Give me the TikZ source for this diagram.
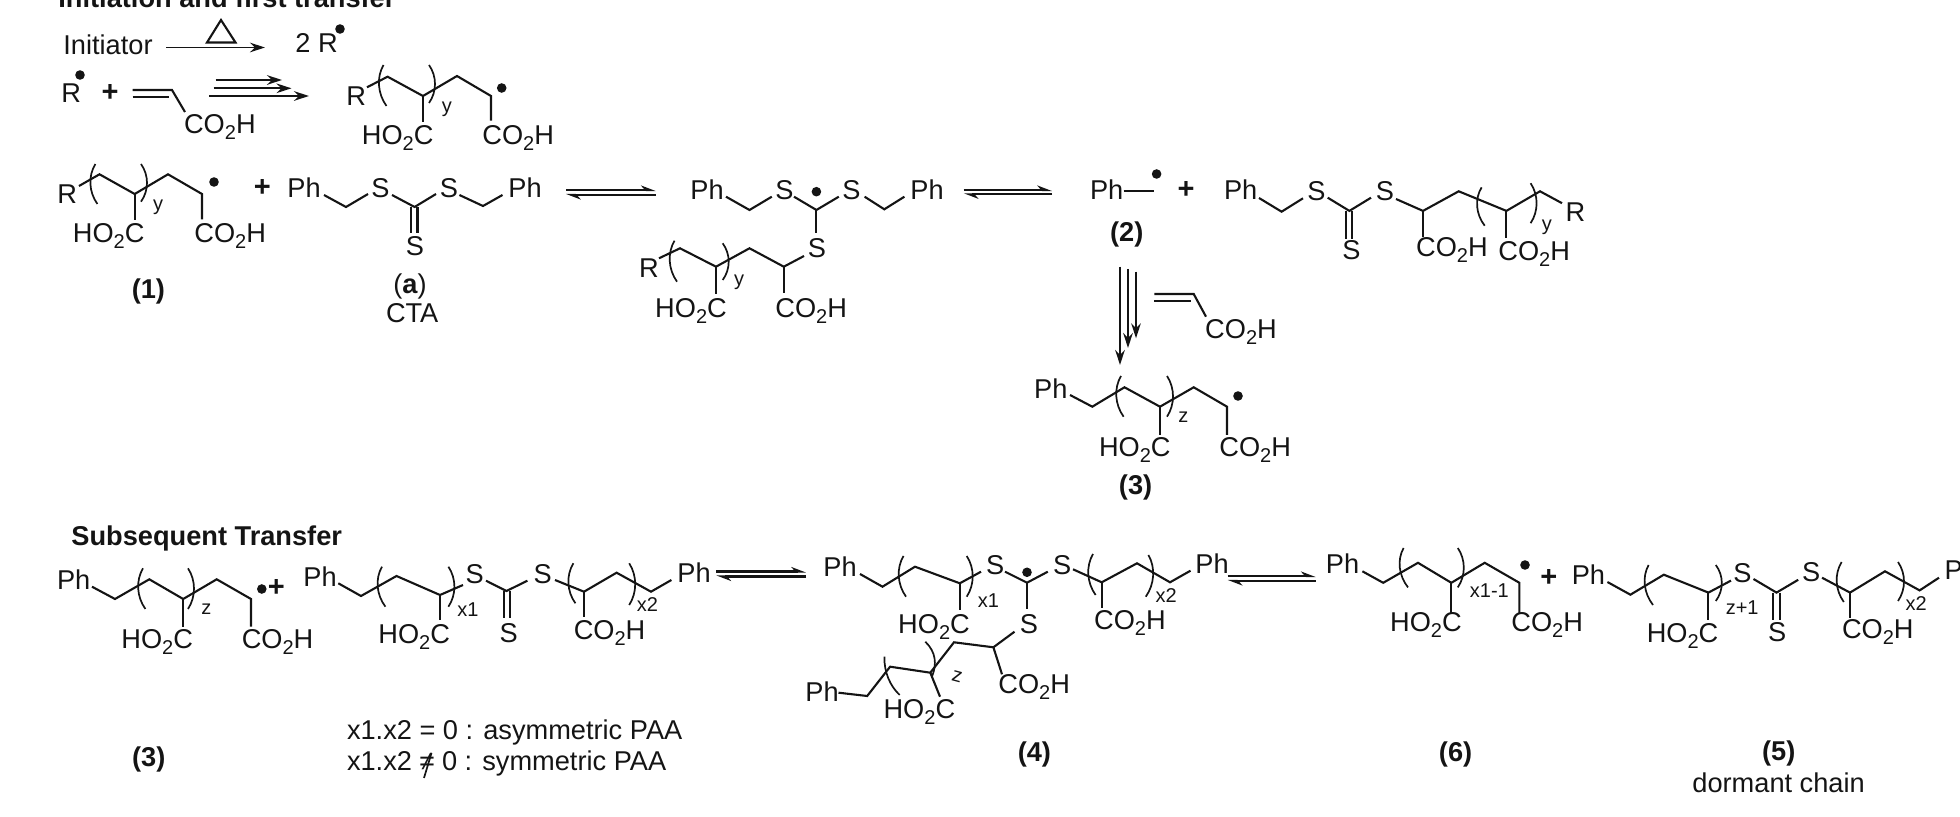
\documentclass[tikz,border=0pt]{standalone}
\usepackage{fontspec}
\setmainfont{Liberation Sans}
\usetikzlibrary{arrows.meta,calc}
\newcommand\subt[1]{\raisebox{-0.22em}{\fontsize{10}{10}\selectfont #1}}
\newcommand\COH{CO\subt{2}H}
\newcommand\HOC{HO\subt{2}C}
\newcommand\Lbl[4]{\node[lbl] (#1) at (#2,#3) {#4};}
\newcommand\Sml[4]{\node[sml] (#1) at (#2,#3) {#4};}
\newcommand\Ctr[4]{\node[ctr] (#1) at (#2,#3) {#4};}
\newcommand\Plus[3]{\node[plusn] (#1) at (#2,#3) {+};}
\newcommand\Dot[3]{\node[rad] (#1) at (#2,#3) {};}
\newcommand\prn[5]{\draw[thinb] (#1,#2) .. controls ($(#1,#2)!.3!(#3,#4)+(#5,0)$) and ($(#1,#2)!.7!(#3,#4)+(#5,0)$) .. (#3,#4);}
\newcommand\eqm[5]{%
  \coordinate (#1ua) at (#2,#4); \coordinate (#1ub) at (#3,#4);
  \coordinate (#1la) at (#3,#5); \coordinate (#1lb) at (#2,#5);
  \draw[eqarrow] (#1ua) -- (#1ub);
  \draw[eqarrow] (#1la) -- (#1lb);}
\newcommand\rxn[5]{%
  \coordinate (#1a) at (#2,#3); \coordinate (#1b) at (#4,#5);
  \draw[rxnarrow] (#1a) -- (#1b);}
\tikzset{
  every node/.style={text=ink},
  lbl/.style={anchor=base west,inner sep=0pt,font=\fontsize{13.6}{15}\selectfont},
  sml/.style={anchor=base west,inner sep=0pt,font=\fontsize{10}{11}\selectfont},
  ctr/.style={anchor=base,inner sep=0pt,font=\fontsize{13.6}{15}\selectfont\bfseries},
  plusn/.style={anchor=center,inner sep=0pt,font=\fontsize{14.5}{15}\selectfont\bfseries},
  rad/.style={circle,fill=ink,draw=none,minimum size=4.8pt,inner sep=0pt},
  bond/.style={draw=ink,line width=1.05pt,line join=miter},
  thinb/.style={draw=ink,line width=0.85pt},
  rxnarrow/.style={draw=ink,line width=0.95pt,-{Stealth[length=7.5pt,width=4.8pt]}},
  eqarrow/.style={draw=ink,line width=1.1pt,-{Stealth[harpoon,length=6pt,width=4.5pt]}},
}
\definecolor{ink}{HTML}{141414}
\begin{document}
\begin{tikzpicture}[x=0.5pt,y=-0.5pt]
\useasboundingbox (0,0) rectangle (1960,817);
% ---- Initiation header
\node[lbl,font=\fontsize{13.6}{15}\selectfont\bfseries] (title) at (58,8) {Initiation and first transfer};
\Lbl{init}{63}{55}{Initiator}
\rxn{ar1}{166}{47.5}{265}{47.5}
\draw[bond] (221,20) -- (207,42.5) -- (235.5,42.5) -- cycle;
\Lbl{twoR}{295}{53}{2 R}
\Dot{d1}{340}{29}
% ---- R + monomer
\Lbl{r2}{61}{102.7}{R}
\Dot{d2}{80}{75}
\Plus{p1}{110}{93}
\draw[bond] (132.7,97.3) -- (169,97.3);
\draw[bond] (132.7,90) -- (172,90) -- (185,112);
\Lbl{co1}{183.7}{134}{\COH}
\rxn{ar2a}{215.6}{80}{282}{80}
\rxn{ar2b}{213.5}{88.3}{291.5}{88.3}
\rxn{ar2c}{209.4}{96}{309}{96}
% chain
\Lbl{r3}{346}{106}{R}
\draw[bond] (367,87.3) -- (387.6,76.7) -- (423,96) -- (457,76) -- (491,96) -- (491,120.7);
\draw[bond] (423,96) -- (423,121.7);
\prn{383.5}{65}{386.5}{106}{-8}
\prn{429}{65}{429}{103}{8}
\Dot{d3}{501.7}{88}
\Sml{y1}{441.5}{113}{y}
\Lbl{ho1}{361.5}{145}{\HOC}
\Lbl{co2}{482}{145}{\COH}
% ---- (1)
\Lbl{r4}{57}{204}{R}
\draw[bond] (79,186) -- (99.5,174.3) -- (134.7,194) -- (168,174.3) -- (202,194) -- (202,219.3);
\draw[bond] (134.7,194) -- (134.7,220);
\prn{95.4}{164}{97.4}{204}{-8}
\prn{141}{164}{141}{201.7}{8}
\Dot{d4}{214}{182}
\Sml{y2}{152.6}{211}{y}
\Lbl{ho2}{72.5}{243}{\HOC}
\Lbl{co3}{194}{243}{\COH}
\Ctr{c1}{148.4}{299}{(1)}
\Plus{p2}{262.4}{188}
% CTA
\Lbl{ph1}{287}{197.7}{Ph}
\draw[bond] (324,195) -- (346,207) -- (368,194);
\Lbl{s1}{371}{197.7}{S}
\draw[bond] (392,195) -- (414.6,207) -- (436,194);
\Lbl{s2}{439.5}{197.7}{S}
\draw[bond] (459.4,195) -- (483,206) -- (502.5,195);
\Lbl{ph2}{508}{197.7}{Ph}
\draw[bond] (411.3,207) -- (411.3,232.7);
\draw[bond] (417.5,207) -- (417.5,232.7);
\Lbl{s3}{405.5}{255.7}{S}
\node[anchor=base,inner sep=0pt,font=\fontsize{13.6}{15}\selectfont] (ca) at (410,294) {(\textbf{a})};
\Lbl{cta}{385.6}{323}{CTA}
\eqm{eq1}{566}{655.7}{190}{195}
% ---- Intermediate
\Lbl{ph3}{690}{200}{Ph}
\draw[bond] (726,196.7) -- (749.5,210) -- (771.8,196.7);
\Lbl{s4}{775}{200}{S}
\draw[bond] (794,196.7) -- (816.4,210) -- (838.8,196.7);
\Lbl{s5}{842}{200}{S}
\draw[bond] (864.6,196.7) -- (884.3,209.3) -- (904.4,196.7);
\Lbl{ph4}{910}{200}{Ph}
\Dot{d5}{816.4}{191.7}
\draw[bond] (816.4,210) -- (816.4,233.3);
\Lbl{s6}{807.5}{257.3}{S}
\Lbl{r5}{638.8}{277.3}{R}
\draw[bond] (659,258.3) -- (680,248.3) -- (716,266.7) -- (749.5,248.3) -- (783.8,266.7) -- (804,256);
\draw[bond] (716,266.7) -- (716,294);
\draw[bond] (783.8,266.7) -- (783.8,293.3);
\prn{674.5}{240.7}{677}{281.7}{-8}
\prn{722.7}{243.3}{722.7}{280}{8}
\Sml{y3}{733.8}{286}{y}
\Lbl{ho3}{654.8}{317.3}{\HOC}
\Lbl{co4}{775}{317.3}{\COH}
\eqm{eq2}{963.7}{1052}{190}{194.3}
% ---- (2) + dormant
\Lbl{ph5}{1089.6}{200}{Ph}
\draw[bond] (1123.6,190.7) -- (1153.5,190.7);
\Dot{d6}{1156.6}{174}
\Plus{p3}{1186}{190}
\Ctr{c2}{1126.7}{241.7}{(2)}
\Lbl{ph6}{1223.6}{200}{Ph}
\draw[bond] (1259,198) -- (1281.6,211.7) -- (1303,198.3);
\Lbl{s7}{1307}{201}{S}
\draw[bond] (1327.7,197.7) -- (1349.4,210.9) -- (1371,197.7);
\Lbl{s8}{1375.4}{201}{S}
\draw[bond] (1396,199) -- (1423,210.9) -- (1458.7,191.3) -- (1506.4,210.9) -- (1540,191.3) -- (1562,203.2);
\draw[bond] (1423,210.9) -- (1423,237.2);
\draw[bond] (1506.4,210.9) -- (1506.4,238.5);
\draw[bond] (1346.3,210.9) -- (1346.3,239.4);
\draw[bond] (1352.4,210.9) -- (1352.4,239.4);
\Lbl{s9}{1342}{259.8}{S}
\Lbl{r6}{1565.3}{221.5}{R}
\prn{1481.6}{187.4}{1484.7}{225.7}{-8}
\prn{1530.6}{183.2}{1530.6}{223.2}{8}
\Sml{y4}{1541.5}{231}{y}
\Lbl{co5}{1415.7}{256.4}{\COH}
\Lbl{co6}{1498}{260.6}{\COH}
% down arrows + monomer
\rxn{dn1}{1120}{266.7}{1120}{365}
\rxn{dn2}{1128}{269}{1128}{348}
\rxn{dn3}{1136}{271.7}{1136}{338.3}
\draw[bond] (1154.4,301) -- (1190.5,301);
\draw[bond] (1154.4,294) -- (1193.7,294) -- (1206,316.7);
\Lbl{co7}{1204.8}{338.3}{\COH}
% ---- (3) upper
\Lbl{ph7}{1033.8}{398.3}{Ph}
\draw[bond] (1070,395) -- (1092.3,406.7) -- (1124.5,387.3) -- (1160,406.7) -- (1193.7,387.3) -- (1227,406.7) -- (1227,435);
\draw[bond] (1160,406.7) -- (1160,435);
\prn{1121}{376}{1123.6}{416.7}{-8}
\prn{1167}{376}{1167}{416.7}{8}
\Dot{d7}{1238}{396}
\Sml{z1}{1178}{422.7}{z}
\Lbl{ho4}{1098.6}{456.7}{\HOC}
\Lbl{co8}{1219}{456.7}{\COH}
\Ctr{c3}{1135.6}{495}{(3)}
% ---- Subsequent transfer
\node[lbl,font=\fontsize{13.6}{15}\selectfont\bfseries] (sub) at (71,546) {Subsequent Transfer};
\Lbl{ph8}{56.7}{590}{Ph}
\draw[bond] (92,586.7) -- (115,599) -- (149.3,579.3) -- (183.2,599) -- (216.7,579.3) -- (251,599) -- (251,626.7);
\draw[bond] (183.2,599) -- (183.2,626.7);
\prn{143}{568.3}{145.4}{609}{-8}
\prn{188}{568.3}{188}{609}{8}
\Sml{z2}{201}{615}{z}
\Dot{d8}{261.8}{589}
\Plus{p4}{276.3}{588.3}
\Lbl{ho5}{121}{648.3}{\HOC}
\Lbl{co9}{241.4}{648.3}{\COH}
\Ctr{c4}{148.8}{766.7}{(3)}
\Lbl{ph9}{303}{586.7}{Ph}
\draw[bond] (338.3,583.3) -- (361,596) -- (396.5,576) -- (440,595) -- (463,585);
\draw[bond] (440,595) -- (440,620);
\prn{382}{566.7}{385.4}{606.7}{-8}
\prn{448.4}{566.7}{448.4}{606.7}{8}
\Sml{x1a}{457}{616.7}{x1}
\Lbl{s10}{465.3}{584}{S}
\draw[bond] (486,580.7) -- (506.5,591) -- (527.4,580.7);
\Lbl{s11}{533.2}{584}{S}
\draw[bond] (504,591) -- (504,618.3);
\draw[bond] (510.4,591) -- (510.4,618.3);
\Lbl{s12}{499.3}{642.7}{S}
\draw[bond] (555,580) -- (584,591.7) -- (616.6,572.7) -- (651,591.7) -- (671.4,580);
\draw[bond] (584,591.7) -- (584,616.7);
\prn{573.4}{563.3}{575.4}{603.3}{-8}
\prn{629.2}{563.3}{629.2}{605}{8}
\Sml{x2a}{636.5}{611.7}{x2}
\Lbl{ph10}{677}{582.7}{Ph}
\Lbl{ho6}{378}{643.3}{\HOC}
\Lbl{co10}{573.4}{639.3}{\COH}
\Lbl{note1}{346.6}{740}{x1.x2 = 0 : asymmetric PAA}
\Lbl{note2}{346.6}{770}{x1.x2 ≠ 0 : symmetric PAA}
\draw[thinb] (431.5,753) -- (424,778);
\eqm{eq3}{716.4}{806}{571.5}{576.5}
% ---- (4)
\Lbl{ph11}{823}{576.7}{Ph}
\draw[bond] (860,574) -- (882.5,586.7) -- (915,566.7) -- (959.8,583.3) -- (981,571.7);
\draw[bond] (959.8,583.3) -- (959.8,610);
\prn{903.5}{556}{906}{596.7}{-8}
\prn{966.7}{556}{966.7}{596.7}{8}
\Sml{x1b}{977.4}{607.3}{x1}
\Lbl{s13}{985.8}{574.3}{S}
\draw[bond] (1005,571.7) -- (1027,582.7) -- (1047.8,571.7);
\Dot{d9}{1027}{572.3}
\draw[bond] (1027,582.7) -- (1027,609.3);
\Lbl{s14}{1052.8}{574.3}{S}
\draw[bond] (1073,569.3) -- (1101.7,582.3) -- (1137,563.3) -- (1170,582.3) -- (1190.5,570.7);
\draw[bond] (1101.7,582.3) -- (1101.7,608.3);
\prn{1093}{554}{1095.6}{595}{-8}
\prn{1148.4}{555}{1145.8}{596.7}{8}
\Sml{x2b}{1155.3}{602.3}{x2}
\Lbl{ph12}{1195}{573.3}{Ph}
\Lbl{s15}{1019.5}{633.3}{S}
\Lbl{ho7}{897.8}{634}{\HOC}
\Lbl{co11}{1093.7}{630}{\COH}
\draw[bond] (1014.5,631.7) -- (993.4,647.3) -- (954,642.3) -- (930.3,672.7) -- (890.1,666.7) -- (867.2,696) -- (838.5,692.7);
\draw[bond] (993.4,647.3) -- (1002,674.3);
\draw[bond] (930.3,672.7) -- (940,696.7);
\draw[thinb] (925.3,641.7) .. controls (936,652) and (937,664) .. (932,676.7);
\draw[thinb] (884.4,656.7) .. controls (884,672) and (890,686) .. (899.7,695);
\node[sml,anchor=center,rotate=-15] (z3) at (957,676.7) {z};
\Lbl{co12}{998}{693.3}{\COH}
\Lbl{ho8}{883.2}{718.3}{\HOC}
\Lbl{ph13}{805}{701.7}{Ph}
\Ctr{c5}{1034.4}{762}{(4)}
\eqm{eq4}{1227.7}{1315.7}{576}{581}
% ---- (6)
\Lbl{ph14}{1325.5}{573.4}{Ph}
\draw[bond] (1362.4,571.3) -- (1383.2,582.8) -- (1418,562.8) -- (1451.3,582.8) -- (1484.7,562.8) -- (1519.4,582.8) -- (1519.4,613.8);
\draw[bond] (1451.3,582.8) -- (1451.3,613.8);
\prn{1403.6}{548}{1408}{587.4}{-8}
\prn{1457.8}{548}{1457.8}{587.4}{8}
\Dot{d10}{1525}{565}
\Plus{p5}{1548.9}{577.7}
\Sml{x3}{1469.5}{597.7}{x1-1}
\Lbl{ho9}{1389.7}{631.7}{\HOC}
\Lbl{co13}{1511}{631.7}{\COH}
\Ctr{c6}{1455.6}{761}{(6)}
% ---- (5)
\Lbl{ph15}{1571.4}{585}{Ph}
\draw[bond] (1607.4,582) -- (1630.4,594.7) -- (1663.8,574.7) -- (1708.4,592.6) -- (1731,580.6);
\draw[bond] (1708.4,592.6) -- (1708.4,620.2);
\prn{1648.6}{565}{1653}{605}{-8}
\prn{1715.8}{565}{1715.8}{601}{8}
\Sml{zp}{1725.4}{614.7}{z+1}
\Lbl{s16}{1733}{582.8}{S}
\draw[bond] (1753.5,579) -- (1776.5,592.6) -- (1798.2,579.8);
\draw[bond] (1773,592.6) -- (1773,620);
\draw[bond] (1779.6,592.6) -- (1779.6,620);
\Lbl{s17}{1767.8}{641.5}{S}
\Lbl{s18}{1801.7}{582}{S}
\draw[bond] (1822,577.7) -- (1850,592.6) -- (1885,571.3) -- (1919.6,590.4) -- (1939,577.7);
\draw[bond] (1850,592.6) -- (1850,618);
\prn{1841.6}{562}{1843.8}{602}{-8}
\prn{1898}{562}{1898}{601}{8}
\Sml{x2c}{1905.3}{610.9}{x2}
\Lbl{phe}{1944.3}{579.8}{P}
\Lbl{ho10}{1646.4}{642.8}{\HOC}
\Lbl{co14}{1841.6}{638.5}{\COH}
\Ctr{c7}{1778.7}{760}{(5)}
\Lbl{dorm}{1692}{792.5}{dormant chain}
\end{tikzpicture}
\end{document}
